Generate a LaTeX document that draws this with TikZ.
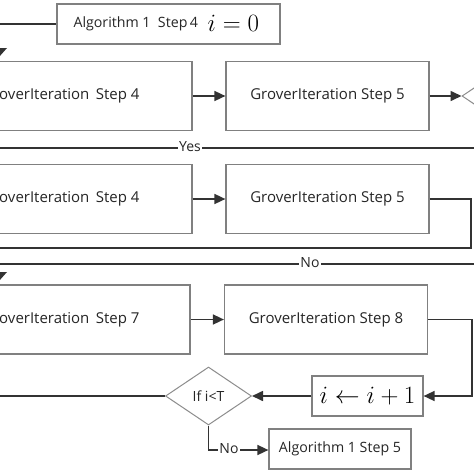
\documentclass[tikz,border=0pt]{standalone}
\usepackage{fontspec}
\setmainfont{Open Sans}
\usetikzlibrary{arrows.meta,shapes.geometric}
\tikzset{
  box/.style={draw=black!50, line width=1.2pt, fill=white, minimum height=69pt, inner sep=0pt},
  smallbox/.style={draw=black!50, line width=1.2pt, fill=white, inner sep=0pt},
  cond/.style={diamond, draw=black!45, line width=1pt, fill=white, minimum width=86pt, minimum height=58pt, inner sep=0pt, aspect=1.48},
  conn/.style={draw=black!80, line width=1.6pt},
  arr/.style={conn, -{Triangle[length=11pt,width=10pt]}},
  lbl/.style={font=\fontsize{14pt}{16pt}\selectfont, text=black!85},
  txt/.style={font=\fontsize{15pt}{18pt}\selectfont, text=black!85},
  txta/.style={font=\fontsize{15pt}{18pt}\selectfont, text=black!85},
  txtb/.style={font=\fontsize{14.2pt}{17pt}\selectfont, text=black!85},
}
\begin{document}
\begin{tikzpicture}[x=1pt, y=-1pt]
\path[use as bounding box, clip] (0,0) rectangle (474,474);
\fill[white] (0,0) rectangle (474,474);
% top box
\node[smallbox, minimum width=223pt, minimum height=40pt] (top) at (168.5,24) {};
\node[txtb, anchor=west] (toptxt) at (70,24) {Algorithm 1\ \ Step\,4};
\node[anchor=west, font=\fontsize{30pt}{33pt}\selectfont] (topmath) at (204,23) {$i=0$};
\coordinate (tl) at (0,24);
\draw[conn] (tl) -- (top.west);
% row 1
\node[box, minimum width=230pt] (a1) at (77,96) {};
\node[txta, anchor=east] (a1t) at (143,96) {GroverIteration\ \,Step 4};
\node[box, minimum width=203pt] (b1) at (327.5,96) {};
\node[txt] (b1t) at (b1) {GroverIteration Step 5};
\node[cond] (d1) at (505,96) {};
\draw[arr] (a1.east |- 0,96) -- (b1.west);
\draw[arr] (b1.east) -- (d1.west);
% yes line
\coordinate (y0) at (0,148);
\coordinate (y1) at (474,148);
\draw[conn] (y0) -- (y1);
\node[lbl, fill=white, inner sep=1pt] (yes) at (190,147) {Yes};
% row 2
\node[box, minimum width=230pt] (a2) at (77,199) {};
\node[txta, anchor=east] (a2t) at (143,199) {GroverIteration\ \,Step 4};
\node[box, minimum width=203pt] (b2) at (327.5,199) {};
\node[txt] (b2t) at (b2) {GroverIteration Step 5};
\draw[arr] (a2.east) -- (b2.west);
\coordinate (r2a) at (471,199);
\coordinate (r2b) at (471,248);
\coordinate (r2c) at (0,248);
\draw[conn] (b2.east) -- (r2a) -- (r2b) -- (r2c);
% no line
\coordinate (n0) at (0,264);
\coordinate (n1) at (474,264);
\draw[conn] (n0) -- (n1);
\node[lbl, fill=white, inner sep=1pt] (no1) at (310,263) {No};
% row 3
\node[box, minimum width=230pt] (a3) at (75,319.5) {};
\node[txta, anchor=east] (a3t) at (143,319.5) {GroverIteration\ \,Step 7};
\node[box, minimum width=203pt] (b3) at (326,319.5) {};
\node[txt] (b3t) at (b3) {GroverIteration Step 8};
\draw[arr] (a3.east) -- (b3.west);
% increment
\node[smallbox, minimum width=111pt, minimum height=40pt, font=\fontsize{26pt}{30pt}\selectfont] (inc) at (367.5,396) {$i\leftarrow i+1$};
\coordinate (r3a) at (472,319.5);
\coordinate (r3b) at (472,396);
\draw[arr] (b3.east) -- (r3a) -- (r3b) -- (inc.east);
% decision
\node[cond] (d2) at (208.5,396) {};
\node[lbl] (d2t) at (d2) {If i<T};
\draw[arr] (inc.west) -- (d2.east);
\coordinate (l3) at (0,396);
\draw[conn] (d2.west) -- (l3);
% final
\node[smallbox, minimum width=142pt, minimum height=40pt, txtb] (fin) at (340,449) {Algorithm 1 Step 5};
\coordinate (dc) at (208.5,450);
\draw[arr] (d2.south) -- (dc) -- (fin.west |- dc);
\node[lbl, fill=white, inner sep=1pt] (no2) at (229,449) {No};
% cut arrowheads at left edge
\fill[black!80] (-8,48) -- (7,48) -- (-1,57) -- cycle;
\fill[black!80] (-8,272) -- (7,272) -- (-1,281) -- cycle;
\end{tikzpicture}
\end{document}
